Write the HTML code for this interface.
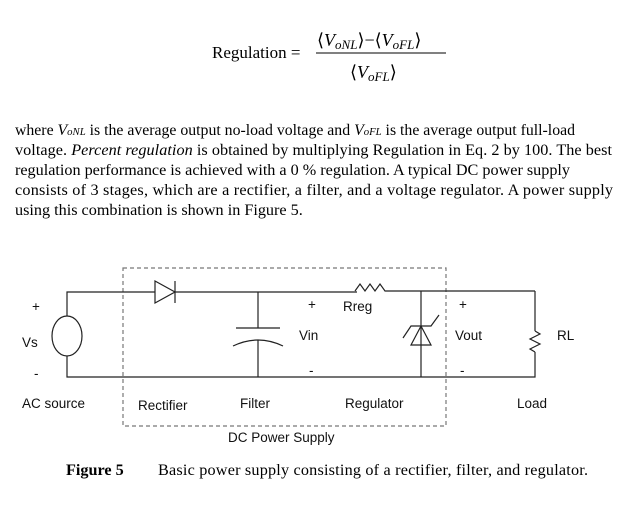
<!DOCTYPE html>
<html><head><style>
body{margin:0;background:#fff;width:642px;height:508px;overflow:hidden}
svg{display:block}
.t{font-family:"Liberation Serif",serif;font-size:16.2px;fill:#000}
.s{font-family:"Liberation Sans",sans-serif;font-size:13.5px;fill:#111}
</style></head><body>
<svg width="642" height="508" viewBox="0 0 642 508">
<text class="t" x="212" y="58" style="font-size:17px">Regulation =</text>
<text class="t" x="317" y="46" style="font-size:18px">⟨<tspan font-style="italic">V</tspan><tspan font-style="italic" font-size="13" dy="3">oNL</tspan><tspan dy="-3">⟩−⟨</tspan><tspan font-style="italic">V</tspan><tspan font-style="italic" font-size="13" dy="3">oFL</tspan><tspan dy="-3">⟩</tspan></text>
<line x1="316" y1="53" x2="446" y2="53" stroke="#000" stroke-width="1"/>
<text class="t" x="350" y="78" style="font-size:18px">⟨<tspan font-style="italic">V</tspan><tspan font-style="italic" font-size="13" dy="3">oFL</tspan><tspan dy="-3">⟩</tspan></text>
<text class="t" x="15" y="135" textLength="560" lengthAdjust="spacingAndGlyphs">where <tspan font-style="italic">V</tspan><tspan font-style="italic" font-size="11">oNL</tspan> is the average output no-load voltage and <tspan font-style="italic">V</tspan><tspan font-style="italic" font-size="11">oFL</tspan> is the average output full-load</text>
<text class="t" x="15" y="155" textLength="597" lengthAdjust="spacing">voltage. <tspan font-style="italic">Percent regulation</tspan> is obtained by multiplying Regulation in Eq. 2 by 100. The best</text>
<text class="t" x="15" y="175" textLength="555" lengthAdjust="spacing">regulation performance is achieved with a 0 % regulation. A typical DC power supply</text>
<text class="t" x="15" y="195" textLength="598" lengthAdjust="spacing">consists of 3 stages, which are a rectifier, a filter, and a voltage regulator. A power supply</text>
<text class="t" x="15" y="215">using this combination is shown in Figure 5.</text>
<g stroke="#222" stroke-width="1.2" fill="none">
<rect x="123" y="268" width="323" height="158" stroke="#777" stroke-dasharray="4,3"/>
<polyline points="67,316 67,292 155,292"/>
<polyline points="67,356 67,377 535,377 535,352"/>
<ellipse cx="67" cy="336" rx="15" ry="20"/>
<path d="M155,281 L175,292 L155,303 Z"/>
<line x1="175" y1="281" x2="175" y2="303"/>
<line x1="175" y1="292" x2="357" y2="292"/>
<line x1="258" y1="292" x2="258" y2="328"/>
<line x1="236" y1="328" x2="280" y2="328"/>
<path d="M233,346 Q258,334 283,346"/>
<line x1="258" y1="340" x2="258" y2="377"/>
<path d="M355,291 L360,284 L365,291 L370,284 L375,291 L380,284 L385,291 L390,291"/>
<line x1="390" y1="291" x2="535" y2="291"/>
<line x1="535" y1="291" x2="535" y2="331"/>
<path d="M535,331 L540,334 L530,339 L540,344 L530,349 L535,352"/>
<line x1="421" y1="291" x2="421" y2="377"/>
<path d="M421,326 L411,345 L431,345 Z"/>
<polyline points="403,338 411,326 431,326 439,315"/>
</g>
<g class="s">
<text x="32" y="311">+</text>
<text x="22" y="347">Vs</text>
<text x="34" y="378">-</text>
<text x="22" y="408">AC source</text>
<text x="138" y="410">Rectifier</text>
<text x="240" y="408">Filter</text>
<text x="345" y="408">Regulator</text>
<text x="517" y="408">Load</text>
<text x="228" y="442">DC Power Supply</text>
<text x="308" y="309">+</text>
<text x="343" y="311">Rreg</text>
<text x="299" y="340">Vin</text>
<text x="309" y="375">-</text>
<text x="459" y="309">+</text>
<text x="455" y="340">Vout</text>
<text x="460" y="375">-</text>
<text x="557" y="340">RL</text>
</g>
<text class="t" x="66" y="475" style="font-weight:bold">Figure 5</text>
<text class="t" x="158" y="475" textLength="430" lengthAdjust="spacing">Basic power supply consisting of a rectifier, filter, and regulator.</text>
</svg>
</body></html>
